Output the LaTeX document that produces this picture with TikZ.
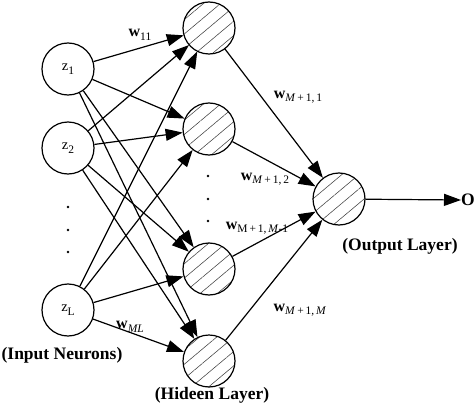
\documentclass[tikz,border=0pt]{standalone}
\usepackage{fontspec}
\setmainfont{Liberation Serif}
\usetikzlibrary{arrows.meta,patterns.meta}
\newcommand{\lsub}[1]{\raisebox{-3.5pt}{\fontsize{11.5}{12}\selectfont\mdseries #1}}
\begin{document}
\begin{tikzpicture}[x=1pt,y=-1pt,
  neuron/.style={circle,draw,line width=1.2pt,minimum size=52pt,inner sep=0pt,font=\fontsize{14.5}{16}\selectfont},
  hid/.style={neuron,pattern={Lines[angle=40,distance=11pt,line width=0.55pt]},pattern color=black!75},
  conn/.style={line width=1.2pt,-{Triangle[length=17pt,width=12pt]}},
  lab/.style={font=\fontsize{17.5}{19}\selectfont\bfseries},
  wlab/.style={font=\fontsize{16}{17}\selectfont,inner sep=0pt},
  dotmark/.style={circle,fill,inner sep=0pt,minimum size=2.8pt}]
\useasboundingbox (0,0) rectangle (474,404);
% input neurons
\node[neuron] (z1) at (68,69) {z\lsub{1}};
\node[neuron] (z2) at (68,148) {z\lsub{2}};
\node[neuron] (zL) at (68,310) {z\lsub{L}};
% hidden neurons
\node[hid] (h1) at (209,28) {};
\node[hid] (h2) at (209,129) {};
\node[hid] (h3) at (209,269) {};
\node[hid] (h4) at (209,361) {};
% output neuron
\node[hid] (out) at (339,199) {};
\node[lab,anchor=west,inner sep=0pt] (o) at (461,200) {O};
% dots
\node[dotmark] (d1) at (68,207) {};
\node[dotmark] (d2) at (68,230) {};
\node[dotmark] (d3) at (68,252) {};
\node[dotmark] (d4) at (208,176) {};
\node[dotmark] (d5) at (208,199) {};
\node[dotmark] (d6) at (208,221) {};
% connections
\foreach \i in {z1,z2,zL}{
  \foreach \h in {h1,h2,h3,h4}{
    \draw[conn] (\i) -- (\h);
  }
}
\foreach \h in {h1,h2,h3,h4}{
  \draw[conn] (\h) -- (out);
}
\draw[conn] (out) -- (o.west);
% weight labels
\node[wlab] (w11) at (140,35) {\textbf{w}\lsub{11}};
\node[wlab] (wml) at (130,327) {\textbf{w}\lsub{\textit{ML}}};
\node[wlab] (wa) at (298,97) {\textbf{w}\lsub{\textit{M}\,+\,1,\,1}};
\node[wlab] (wb) at (265,179) {\textbf{w}\lsub{\textit{M}\,+\,1,\,2}};
\node[wlab] (wc) at (257,228) {\textbf{w}\lsub{M\,+\,1,\,\textit{M}-1}};
\node[wlab] (wd) at (300,310) {\textbf{w}\lsub{\textit{M}\,+\,1,\,\textit{M}}};
% layer labels
\node[lab] (li) at (62,355) {(Input Neurons)};
\node[lab] (lh) at (212,395) {(Hideen Layer)};
\node[lab] (lo) at (400,246) {(Output Layer)};
\end{tikzpicture}
\end{document}
